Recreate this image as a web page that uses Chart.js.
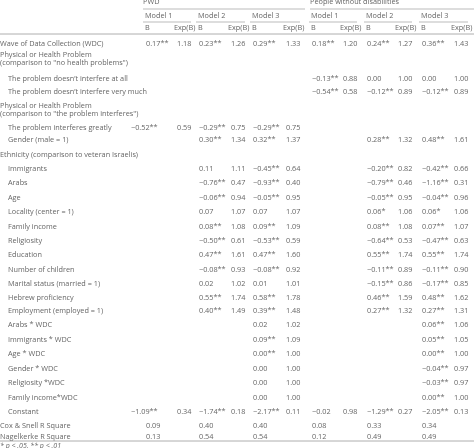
<!DOCTYPE html>
<html>
<head>
<meta charset="utf-8">
<script src="https://cdn.jsdelivr.net/npm/chart.js@4"></script>
<style>
  html, body { margin: 0; padding: 0; background: #fff; }
  #wrap { width: 474px; height: 448px; position: relative; }
</style>
</head>
<body>
<div id="wrap"><canvas id="c"></canvas></div>
<script>
const rowLabels = [
  'Wave of Data Collection (WDC)',
  'Physical or Health Problem\n(comparison to "no health problems")',
  'The problem doesn\u2019t interfere at all',
  'The problem doesn\u2019t interfere very much',
  'Physical or Health Problem\n(comparison to "the problem interferes")',
  'The problem interferes greatly',
  'Gender (male = 1)',
  'Ethnicity (comparison to veteran Israelis)',
  'Immigrants', 'Arabs', 'Age', 'Locality (center = 1)', 'Family income',
  'Religiosity', 'Education', 'Number of children', 'Marital status (married = 1)',
  'Hebrew proficiency', 'Employment (employed = 1)', 'Arabs * WDC', 'Immigrants * WDC',
  'Age * WDC', 'Gender * WDC', 'Religiosity *WDC', 'Family income*WDC', 'Constant',
  'Cox & Snell R Square', 'Nagelkerke R Square'
];
const rowIndent = [0,0,1,1,0,1,1,0,1,1,1,1,1,1,1,1,1,1,1,1,1,1,1,1,1,1,0,0];
const groups = ['PWD', 'People without disabilities'];
const models = ['Model 1', 'Model 2', 'Model 3'];
const _ = '';
const pwd1B = ['0.17**',_,_,_,_,'\u22120.52**',_,_,_,_,_,_,_,_,_,_,_,_,_,_,_,_,_,_,_,'\u22121.09**','0.09','0.13'];
const pwd1E = ['1.18',_,_,_,_,'0.59',_,_,_,_,_,_,_,_,_,_,_,_,_,_,_,_,_,_,_,'0.34',_,_];
const pwd2B = ['0.23**',_,_,_,_,'\u22120.29**','0.30**',_,'0.11','\u22120.76**','\u22120.06**','0.07','0.08**','\u22120.50**','0.47**','\u22120.08**','0.02','0.55**','0.40**',_,_,_,_,_,_,'\u22121.74**','0.40','0.54'];
const pwd2E = ['1.26',_,_,_,_,'0.75','1.34',_,'1.11','0.47','0.94','1.07','1.08','0.61','1.61','0.93','1.02','1.74','1.49',_,_,_,_,_,_,'0.18',_,_];
const pwd3B = ['0.29**',_,_,_,_,'\u22120.29**','0.32**',_,'\u22120.45**','\u22120.93**','\u22120.05**','0.07','0.09**','\u22120.53**','0.47**','\u22120.08**','0.01','0.58**','0.39**','0.02','0.09**','0.00**','0.00','0.00','0.00','\u22122.17**','0.40','0.54'];
const pwd3E = ['1.33',_,_,_,_,'0.75','1.37',_,'0.64','0.40','0.95','1.07','1.09','0.59','1.60','0.92','1.01','1.78','1.48','1.02','1.09','1.00','1.00','1.00','1.00','0.11',_,_];
const ppl1B = ['0.18**',_,'\u22120.13**','\u22120.54**',_,_,_,_,_,_,_,_,_,_,_,_,_,_,_,_,_,_,_,_,_,'\u22120.02','0.08','0.12'];
const ppl1E = ['1.20',_,'0.88','0.58',_,_,_,_,_,_,_,_,_,_,_,_,_,_,_,_,_,_,_,_,_,'0.98',_,_];
const ppl2B = ['0.24**',_,'0.00','\u22120.12**',_,_,'0.28**',_,'\u22120.20**','\u22120.79**','\u22120.05**','0.06*','0.08**','\u22120.64**','0.55**','\u22120.11**','\u22120.15**','0.46**','0.27**',_,_,_,_,_,_,'\u22121.29**','0.33','0.49'];
const ppl2E = ['1.27',_,'1.00','0.89',_,_,'1.32',_,'0.82','0.46','0.95','1.06','1.08','0.53','1.74','0.89','0.86','1.59','1.32',_,_,_,_,_,_,'0.27',_,_];
const ppl3B = ['0.36**',_,'0.00','\u22120.12**',_,_,'0.48**',_,'\u22120.42**','\u22121.16**','\u22120.04**','0.06*','0.07**','\u22120.47**','0.55**','\u22120.11**','\u22120.17**','0.48**','0.27**','0.06**','0.05**','0.00**','\u22120.04**','\u22120.03**','0.00**','\u22122.05**','0.34','0.49'];
const ppl3E = ['1.43',_,'1.00','0.89',_,_,'1.61',_,'0.66','0.31','0.96','1.06','1.07','0.63','1.74','0.90','0.85','1.62','1.31','1.06','1.05','1.00','0.97','0.97','1.00','0.13',_,_];
const footnote = '* p < .05, ** p < .01';

// layout (pixel units of the 474x448 scales)
const columns = [pwd1B, pwd1E, pwd2B, pwd2E, pwd3B, pwd3E, ppl1B, ppl1E, ppl2B, ppl2E, ppl3B, ppl3E];
const colX = [146, 177, 199, 231, 253, 286, 312, 343, 367, 398, 422, 454];
const rowY = [44, 55, 79, 92, 106, 128, 140, 155, 169, 183, 198, 212, 227, 241, 255, 270, 284, 298, 311, 325, 340, 354, 369, 383, 398, 412, 426, 437];

const tablePlugin = {
  id: 'table',
  afterDraw(chart) {
    const { ctx, scales: { x, y } } = chart;
    const X = v => x.getPixelForValue(v), Y = v => y.getPixelForValue(v);
    ctx.save();
    ctx.fillStyle = '#666';
    ctx.textBaseline = 'middle';
    ctx.font = '7.3px "Open Sans"';
    const line = (x1, x2, yy, c) => {
      ctx.strokeStyle = c; ctx.lineWidth = 0.8;
      ctx.beginPath(); ctx.moveTo(X(x1), Y(yy)); ctx.lineTo(X(x2), Y(yy)); ctx.stroke();
    };
    // headers
    groups.forEach((g, i) => ctx.fillText(g, X(i ? 310 : 143), Y(2)));
    line(143, 305, 9, '#aaa'); line(310, 474, 9, '#aaa');
    models.concat(models).forEach((m, i) => {
      const x0 = colX[i * 2] - 1;
      ctx.fillText(m, X(x0), Y(16));
      line(x0 - 2, Math.min(474, colX[i * 2 + 1] + 14), 22, '#aaa');
      ctx.fillText('B', X(x0), Y(28));
      ctx.fillText('Exp(B)', X(colX[i * 2 + 1] - 3), Y(28));
    });
    line(0, 474, 34, '#999');
    // row labels
    rowLabels.forEach((lab, r) => {
      lab.split('\n').forEach((p, k) => ctx.fillText(p, X(rowIndent[r] ? 8 : 0), Y(rowY[r] + k * 8)));
    });
    // cells
    columns.forEach((col, c) => {
      col.forEach((v, r) => {
        if (!v) return;
        let xx = colX[c];
        if (c === 0 && v[0] === '\u2212') xx -= 15;
        ctx.fillText(v, X(xx), Y(rowY[r]));
      });
    });
    line(0, 474, 441, '#999');
    ctx.font = 'italic 7px "Open Sans"';
    ctx.fillText(footnote, X(0), Y(446));
    ctx.restore();
  }
};

new Chart(document.getElementById('c'), {
  type: 'scatter',
  data: { datasets: [{ data: [], pointRadius: 0 }] },
  options: {
    responsive: true,
    maintainAspectRatio: false,
    animation: false,
    layout: { padding: 0 },
    plugins: { legend: { display: false }, tooltip: { enabled: false } },
    scales: {
      x: { type: 'linear', min: 0, max: 474, display: false },
      y: { type: 'linear', min: 0, max: 448, reverse: true, display: false }
    }
  },
  plugins: [tablePlugin]
});
</script>
</body>
</html>
